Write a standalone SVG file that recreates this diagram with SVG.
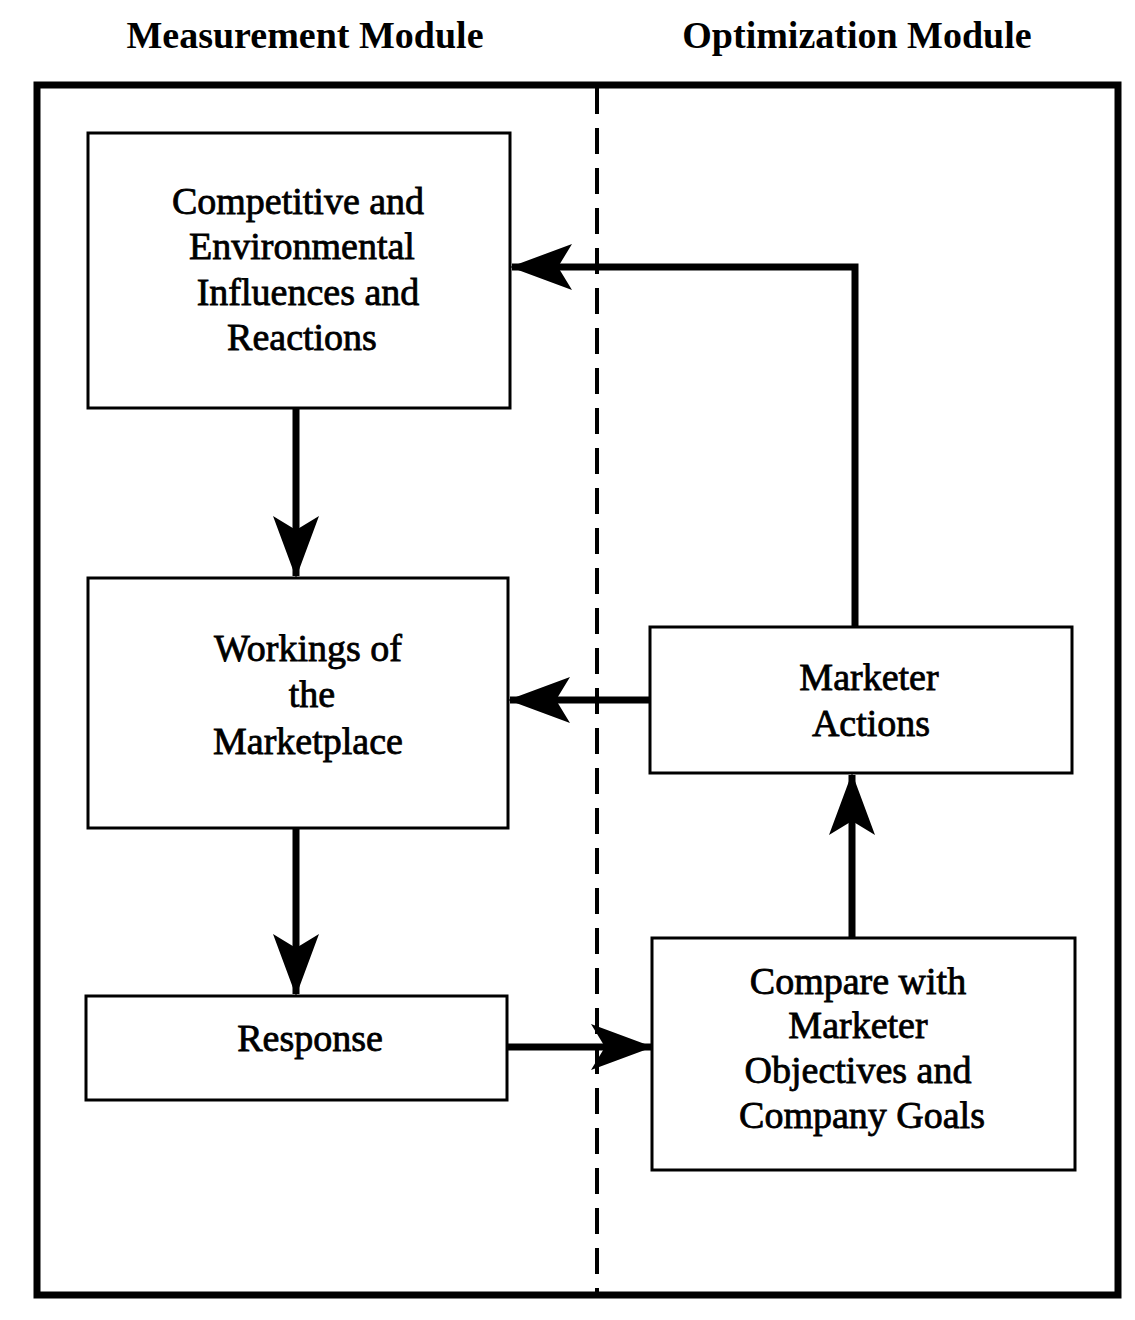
<svg xmlns="http://www.w3.org/2000/svg" width="1135" height="1320" viewBox="0 0 1135 1320">
<style>
.box{fill:#fff;stroke:#000;stroke-width:3}
.t{font-family:"Liberation Serif","Times New Roman",serif;font-size:38px;fill:#000;stroke:#000;stroke-width:0.8;text-anchor:middle}
.h{font-family:"Liberation Serif","Times New Roman",serif;font-size:38px;font-weight:bold;fill:#000;text-anchor:middle}
.c{fill:none;stroke:#000;stroke-width:7}
.ah{fill:#000}
</style>
<defs>
<marker id="arr" markerUnits="userSpaceOnUse" viewBox="0 0 62 46" refX="60" refY="23" markerWidth="62" markerHeight="46" orient="auto">
<path class="ah" d="M0,0 L62,23 L0,46 L14,23 Z"/>
</marker>
</defs>
<rect width="1135" height="1320" fill="#fff"/>
<g id="titles">
<text class="h" x="305" y="48">Measurement Module</text>
<text class="h" x="857" y="48">Optimization Module</text>
</g>
<g id="frame">
<rect x="37" y="85" width="1081" height="1210" fill="none" stroke="#000" stroke-width="7"/>
<line x1="597" y1="88" x2="597" y2="1292" stroke="#000" stroke-width="4" stroke-dasharray="26,14"/>
</g>
<g id="connectors">
<polyline class="c" points="855,627 855,267 512,267" marker-end="url(#arr)"/>
<line class="c" x1="296" y1="408" x2="296" y2="576" marker-end="url(#arr)"/>
<line class="c" x1="650" y1="700" x2="510" y2="700" marker-end="url(#arr)"/>
<line class="c" x1="296" y1="828" x2="296" y2="994" marker-end="url(#arr)"/>
<line class="c" x1="507" y1="1047" x2="651" y2="1047" marker-end="url(#arr)"/>
<line class="c" x1="852" y1="938" x2="852" y2="775" marker-end="url(#arr)"/>
</g>
<g id="n1">
<rect class="box" x="88" y="133" width="422" height="275"/>
<text class="t" x="298" y="214">Competitive and</text>
<text class="t" x="302" y="259">Environmental</text>
<text class="t" x="308" y="305">Influences and</text>
<text class="t" x="302" y="350">Reactions</text>
</g>
<g id="n2">
<rect class="box" x="88" y="578" width="420" height="250"/>
<text class="t" x="308" y="661">Workings of</text>
<text class="t" x="312" y="707">the</text>
<text class="t" x="308" y="754">Marketplace</text>
</g>
<g id="n3">
<rect class="box" x="86" y="996" width="421" height="104"/>
<text class="t" x="310" y="1051">Response</text>
</g>
<g id="n4">
<rect class="box" x="650" y="627" width="422" height="146"/>
<text class="t" x="869" y="690">Marketer</text>
<text class="t" x="871" y="736">Actions</text>
</g>
<g id="n5">
<rect class="box" x="652" y="938" width="423" height="232"/>
<text class="t" x="858" y="994">Compare with</text>
<text class="t" x="858" y="1038">Marketer</text>
<text class="t" x="858" y="1083">Objectives and</text>
<text class="t" x="862" y="1128">Company Goals</text>
</g>
</svg>
